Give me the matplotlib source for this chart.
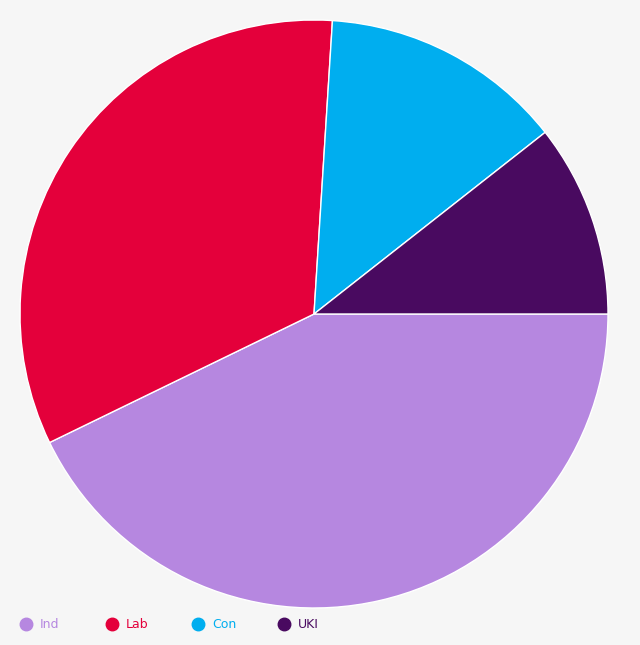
import matplotlib
matplotlib.use('Agg')
import matplotlib.pyplot as plt
from matplotlib.lines import Line2D

# party shares (percent)
parties = ['Ind', 'Lab', 'Con', 'UKI']
shares = [42.8, 33.2, 13.4, 10.6]
colors = ['#b687e0', '#e4003b', '#00aeef', '#490a60']

W, H = 640, 645
fig = plt.figure(figsize=(W / 100, H / 100), dpi=100, facecolor='#f6f6f6')

# pie centred at (314, 314) px, radius 294 px
cx, cy, r = 314, 314, 294
ax = fig.add_axes([(cx - r) / W, (H - cy - r) / H, 2 * r / W, 2 * r / H])
ax.set_facecolor('#f6f6f6')
ax.pie(shares, colors=colors, startangle=0, counterclock=False, radius=1,
       wedgeprops=dict(edgecolor='white', linewidth=1))
ax.set_xlim(-1, 1)
ax.set_ylim(-1, 1)
ax.set_aspect('equal')
ax.axis('off')

# legend row along the bottom, fixed column width
fs = 9
x0, step, y_leg = 26, 86, 625
for i, (name, col) in enumerate(zip(parties, colors)):
    h = Line2D([], [], marker='o', linestyle='none', color=col, markersize=9)
    hx = x0 + i * step - fs * 100 / 72 / 2
    fig.legend(handles=[h], labels=[name], loc='center left',
               bbox_to_anchor=(hx / W, (H - y_leg) / H),
               frameon=False, fontsize=fs, labelcolor=col,
               handlelength=1, handletextpad=0.62,
               borderpad=0, borderaxespad=0)

fig.savefig('out.png', dpi=100, facecolor=fig.get_facecolor())
